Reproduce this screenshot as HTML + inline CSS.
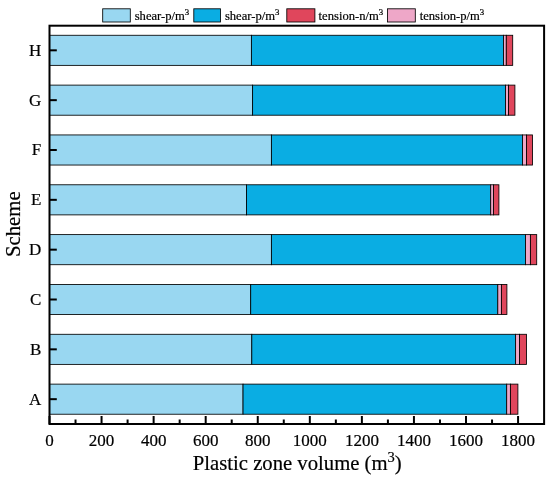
<!DOCTYPE html>
<html><head><meta charset="utf-8"><title>Plastic zone volume</title>
<style>
html,body{margin:0;padding:0;background:#fff;}
svg{display:block;font-family:"Liberation Serif","Times New Roman",serif;fill:#000;}
text{stroke:#000;stroke-width:0.2px;}
</style></head><body>
<svg width="550" height="478" viewBox="0 0 550 478">
<rect x="0" y="0" width="550" height="478" fill="#fff"/>

<rect x="49.50" y="35.27" width="201.90" height="30.10" fill="#99d7f1" stroke="#000" stroke-width="0.85"/>
<rect x="251.40" y="35.27" width="252.10" height="30.10" fill="#0aade3" stroke="#000" stroke-width="0.85"/>
<rect x="503.50" y="35.27" width="2.80" height="30.10" fill="#eea7c8" stroke="#000" stroke-width="0.85"/>
<rect x="506.30" y="35.27" width="6.40" height="30.10" fill="#e0465c" stroke="#000" stroke-width="0.85"/>
<line x1="49.50" y1="50.32" x2="56.80" y2="50.32" stroke="#000" stroke-width="2"/>
<text x="41.3" y="55.72" font-size="17" text-anchor="end">H</text>
<rect x="49.50" y="85.11" width="203.10" height="30.10" fill="#99d7f1" stroke="#000" stroke-width="0.85"/>
<rect x="252.60" y="85.11" width="252.90" height="30.10" fill="#0aade3" stroke="#000" stroke-width="0.85"/>
<rect x="505.50" y="85.11" width="3.00" height="30.10" fill="#eea7c8" stroke="#000" stroke-width="0.85"/>
<rect x="508.50" y="85.11" width="6.40" height="30.10" fill="#e0465c" stroke="#000" stroke-width="0.85"/>
<line x1="49.50" y1="100.16" x2="56.80" y2="100.16" stroke="#000" stroke-width="2"/>
<text x="41.3" y="105.56" font-size="17" text-anchor="end">G</text>
<rect x="49.50" y="134.94" width="221.90" height="30.10" fill="#99d7f1" stroke="#000" stroke-width="0.85"/>
<rect x="271.40" y="134.94" width="251.10" height="30.10" fill="#0aade3" stroke="#000" stroke-width="0.85"/>
<rect x="522.50" y="134.94" width="4.00" height="30.10" fill="#eea7c8" stroke="#000" stroke-width="0.85"/>
<rect x="526.50" y="134.94" width="6.00" height="30.10" fill="#e0465c" stroke="#000" stroke-width="0.85"/>
<line x1="49.50" y1="149.99" x2="56.80" y2="149.99" stroke="#000" stroke-width="2"/>
<text x="41.3" y="155.39" font-size="17" text-anchor="end">F</text>
<rect x="49.50" y="184.78" width="197.00" height="30.10" fill="#99d7f1" stroke="#000" stroke-width="0.85"/>
<rect x="246.50" y="184.78" width="244.20" height="30.10" fill="#0aade3" stroke="#000" stroke-width="0.85"/>
<rect x="490.70" y="184.78" width="2.80" height="30.10" fill="#eea7c8" stroke="#000" stroke-width="0.85"/>
<rect x="493.50" y="184.78" width="5.40" height="30.10" fill="#e0465c" stroke="#000" stroke-width="0.85"/>
<line x1="49.50" y1="199.83" x2="56.80" y2="199.83" stroke="#000" stroke-width="2"/>
<text x="41.3" y="205.23" font-size="17" text-anchor="end">E</text>
<rect x="49.50" y="234.61" width="221.90" height="30.10" fill="#99d7f1" stroke="#000" stroke-width="0.85"/>
<rect x="271.40" y="234.61" width="254.10" height="30.10" fill="#0aade3" stroke="#000" stroke-width="0.85"/>
<rect x="525.50" y="234.61" width="4.90" height="30.10" fill="#eea7c8" stroke="#000" stroke-width="0.85"/>
<rect x="530.40" y="234.61" width="6.30" height="30.10" fill="#e0465c" stroke="#000" stroke-width="0.85"/>
<line x1="49.50" y1="249.66" x2="56.80" y2="249.66" stroke="#000" stroke-width="2"/>
<text x="41.3" y="255.06" font-size="17" text-anchor="end">D</text>
<rect x="49.50" y="284.45" width="201.20" height="30.10" fill="#99d7f1" stroke="#000" stroke-width="0.85"/>
<rect x="250.70" y="284.45" width="247.10" height="30.10" fill="#0aade3" stroke="#000" stroke-width="0.85"/>
<rect x="497.80" y="284.45" width="3.60" height="30.10" fill="#eea7c8" stroke="#000" stroke-width="0.85"/>
<rect x="501.40" y="284.45" width="5.50" height="30.10" fill="#e0465c" stroke="#000" stroke-width="0.85"/>
<line x1="49.50" y1="299.50" x2="56.80" y2="299.50" stroke="#000" stroke-width="2"/>
<text x="41.3" y="304.90" font-size="17" text-anchor="end">C</text>
<rect x="49.50" y="334.29" width="202.30" height="30.10" fill="#99d7f1" stroke="#000" stroke-width="0.85"/>
<rect x="251.80" y="334.29" width="263.80" height="30.10" fill="#0aade3" stroke="#000" stroke-width="0.85"/>
<rect x="515.60" y="334.29" width="3.90" height="30.10" fill="#eea7c8" stroke="#000" stroke-width="0.85"/>
<rect x="519.50" y="334.29" width="7.00" height="30.10" fill="#e0465c" stroke="#000" stroke-width="0.85"/>
<line x1="49.50" y1="349.34" x2="56.80" y2="349.34" stroke="#000" stroke-width="2"/>
<text x="41.3" y="354.74" font-size="17" text-anchor="end">B</text>
<rect x="49.50" y="384.12" width="193.55" height="30.10" fill="#99d7f1" stroke="#000" stroke-width="0.85"/>
<rect x="243.05" y="384.12" width="263.65" height="30.10" fill="#0aade3" stroke="#000" stroke-width="0.85"/>
<rect x="506.70" y="384.12" width="3.70" height="30.10" fill="#eea7c8" stroke="#000" stroke-width="0.85"/>
<rect x="510.40" y="384.12" width="7.50" height="30.10" fill="#e0465c" stroke="#000" stroke-width="0.85"/>
<line x1="49.50" y1="399.17" x2="56.80" y2="399.17" stroke="#000" stroke-width="2"/>
<text x="41.3" y="404.57" font-size="17" text-anchor="end">A</text>
<line x1="49.50" y1="424.00" x2="49.50" y2="416.00" stroke="#000" stroke-width="2"/>
<text x="49.50" y="446" font-size="17" text-anchor="middle">0</text>
<line x1="75.53" y1="424.00" x2="75.53" y2="419.50" stroke="#000" stroke-width="2"/>
<line x1="101.56" y1="424.00" x2="101.56" y2="416.00" stroke="#000" stroke-width="2"/>
<text x="101.56" y="446" font-size="17" text-anchor="middle">200</text>
<line x1="127.59" y1="424.00" x2="127.59" y2="419.50" stroke="#000" stroke-width="2"/>
<line x1="153.63" y1="424.00" x2="153.63" y2="416.00" stroke="#000" stroke-width="2"/>
<text x="153.63" y="446" font-size="17" text-anchor="middle">400</text>
<line x1="179.66" y1="424.00" x2="179.66" y2="419.50" stroke="#000" stroke-width="2"/>
<line x1="205.69" y1="424.00" x2="205.69" y2="416.00" stroke="#000" stroke-width="2"/>
<text x="205.69" y="446" font-size="17" text-anchor="middle">600</text>
<line x1="231.72" y1="424.00" x2="231.72" y2="419.50" stroke="#000" stroke-width="2"/>
<line x1="257.75" y1="424.00" x2="257.75" y2="416.00" stroke="#000" stroke-width="2"/>
<text x="257.75" y="446" font-size="17" text-anchor="middle">800</text>
<line x1="283.78" y1="424.00" x2="283.78" y2="419.50" stroke="#000" stroke-width="2"/>
<line x1="309.82" y1="424.00" x2="309.82" y2="416.00" stroke="#000" stroke-width="2"/>
<text x="309.82" y="446" font-size="17" text-anchor="middle">1000</text>
<line x1="335.85" y1="424.00" x2="335.85" y2="419.50" stroke="#000" stroke-width="2"/>
<line x1="361.88" y1="424.00" x2="361.88" y2="416.00" stroke="#000" stroke-width="2"/>
<text x="361.88" y="446" font-size="17" text-anchor="middle">1200</text>
<line x1="387.91" y1="424.00" x2="387.91" y2="419.50" stroke="#000" stroke-width="2"/>
<line x1="413.94" y1="424.00" x2="413.94" y2="416.00" stroke="#000" stroke-width="2"/>
<text x="413.94" y="446" font-size="17" text-anchor="middle">1400</text>
<line x1="439.97" y1="424.00" x2="439.97" y2="419.50" stroke="#000" stroke-width="2"/>
<line x1="466.01" y1="424.00" x2="466.01" y2="416.00" stroke="#000" stroke-width="2"/>
<text x="466.01" y="446" font-size="17" text-anchor="middle">1600</text>
<line x1="492.04" y1="424.00" x2="492.04" y2="419.50" stroke="#000" stroke-width="2"/>
<line x1="518.07" y1="424.00" x2="518.07" y2="416.00" stroke="#000" stroke-width="2"/>
<text x="518.07" y="446" font-size="17" text-anchor="middle">1800</text>
<rect x="49.50" y="25.70" width="494.60" height="398.30" fill="none" stroke="#000" stroke-width="2"/>
<rect x="102.70" y="8.8" width="27.60" height="13.2" fill="#99d7f1" stroke="#000" stroke-width="0.85"/>
<text x="134.70" y="19.5" font-size="12.6">shear-p/m<tspan font-size="8.8" dy="-4.4">3</tspan></text>
<rect x="193.80" y="8.8" width="26.70" height="13.2" fill="#0aade3" stroke="#000" stroke-width="0.85"/>
<text x="224.90" y="19.5" font-size="12.6">shear-p/m<tspan font-size="8.8" dy="-4.4">3</tspan></text>
<rect x="286.80" y="8.8" width="28.10" height="13.2" fill="#e0465c" stroke="#000" stroke-width="0.85"/>
<text x="318.60" y="19.5" font-size="12.6">tension-n/m<tspan font-size="8.8" dy="-4.4">3</tspan></text>
<rect x="387.50" y="8.8" width="27.80" height="13.2" fill="#eea7c8" stroke="#000" stroke-width="0.85"/>
<text x="419.70" y="19.5" font-size="12.6">tension-p/m<tspan font-size="8.8" dy="-4.4">3</tspan></text>
<text x="192.8" y="469.8" font-size="20.7">Plastic zone volume (m<tspan font-size="14.5" dy="-8">3</tspan><tspan dy="8">)</tspan></text>
<text transform="translate(19.7,224.2) rotate(-90)" font-size="20.8" text-anchor="middle">Scheme</text>
</svg>
</body></html>
